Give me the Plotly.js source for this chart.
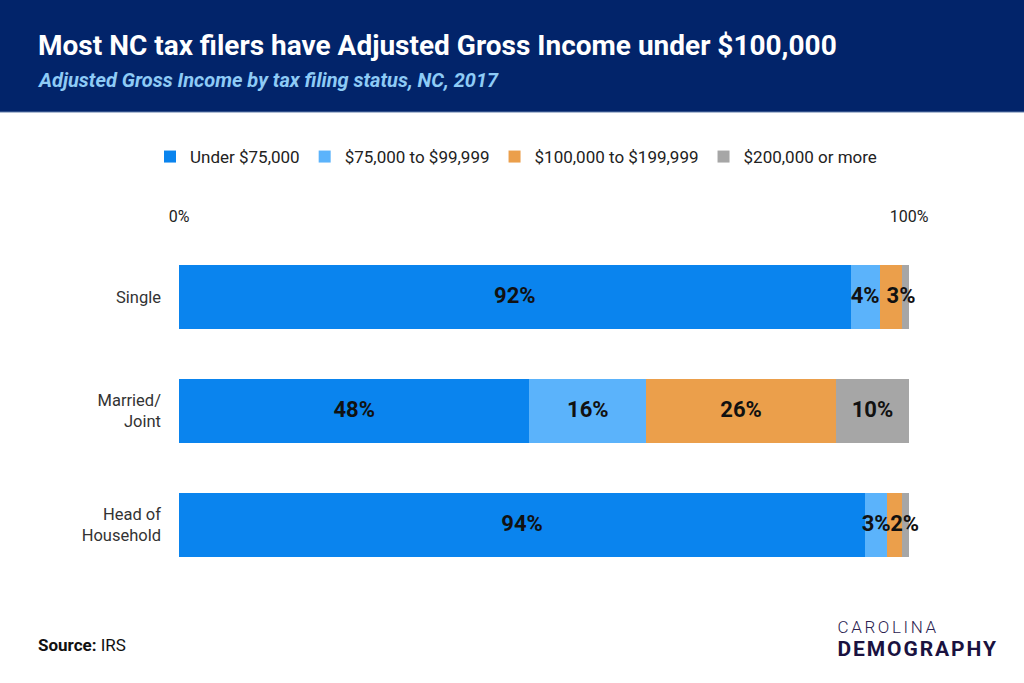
<!DOCTYPE html>
<html>
<head>
<meta charset="utf-8">
<script src="https://cdn.plot.ly/plotly-3.0.1.min.js"></script>
<style>
  html, body { margin: 0; padding: 0; background: #ffffff; }
  #chart { width: 1024px; height: 683px; }
</style>
</head>
<body>
<div id="chart"></div>
<script>
// Filing status categories (top to bottom)
const statuses = ['Single', 'Married/<br>Joint', 'Head of<br>Household'];

// Share of filers (%) in each AGI bracket, per filing status
const under75k      = [92, 48, 94];
const from75to100k  = [4, 16, 3];
const from100to200k = [3, 26, 2];
const over200k      = [1, 10, 1];

const bracketNames = ['Under $75,000', '$75,000 to $99,999', '$100,000 to $199,999', '$200,000 or more'];
const bracketColors = ['#0a84ee', '#5bb3fb', '#eb9f4b', '#a6a6a6'];

const xTickVals = [0, 100];
const xTickText = ['0%', '100%'];

// Canvas geometry
const W = 1024, H = 683;
const M = { l: 179, r: 115, t: 240, b: 101 };
const plotW = W - M.l - M.r, plotH = H - M.t - M.b;
const px = x => (x - M.l) / plotW;
const py = y => (H - M.b - y) / plotH;

const font = 'Roboto, sans-serif';

const series = [under75k, from75to100k, from100to200k, over200k];

// Stacked bars, one trace per bracket
const traces = series.map((vals, i) => ({
  type: 'bar',
  orientation: 'h',
  name: bracketNames[i],
  y: statuses,
  x: vals,
  marker: { color: bracketColors[i], line: { width: 0 } },
  hoverinfo: 'skip'
}));

// Value labels sit on top of every segment, centred on it. Segments under 2%
// stay unlabelled; a narrow label that follows another narrow one is eased
// right so the two do not collide.
const labelX = [], labelY = [], labelText = [];
statuses.forEach((s, j) => {
  let start = 0;
  let prevNarrow = false;
  series.forEach(vals => {
    const v = vals[j];
    if (v >= 2) {
      const narrow = v < 5;
      labelX.push(start + v / 2 + (narrow && prevNarrow ? 1.4 : 0));
      labelY.push(s);
      labelText.push(v + '%');
      prevNarrow = narrow;
    }
    start += v;
  });
});

traces.push({
  type: 'scatter',
  mode: 'text',
  x: labelX,
  y: labelY,
  text: labelText,
  textposition: 'middle center',
  textfont: { family: font, size: 22, color: '#111111', weight: 700 },
  cliponaxis: false,
  showlegend: false,
  hoverinfo: 'skip'
});

const layout = {
  width: W,
  height: H,
  margin: M,
  paper_bgcolor: '#ffffff',
  plot_bgcolor: '#ffffff',
  barmode: 'stack',
  bargap: 0.43,
  showlegend: true,
  legend: {
    orientation: 'h',
    x: px(516), xanchor: 'center',
    y: py(157), yanchor: 'middle',
    font: { family: font, size: 17, color: '#222222' },
    traceorder: 'normal',
    itemclick: false
  },
  xaxis: {
    side: 'top',
    range: [0, 100],
    tickvals: xTickVals,
    ticktext: xTickText,
    showgrid: true,
    gridcolor: '#e3e3e3',
    gridwidth: 2,
    zeroline: false,
    showline: false,
    ticks: '',
    ticklabelstandoff: 14,
    tickfont: { family: font, size: 16, color: '#222222' },
    fixedrange: true
  },
  yaxis: {
    range: [2.5, -0.5],
    showgrid: false,
    zeroline: false,
    showline: false,
    ticks: '',
    ticklabelstandoff: 17,
    tickfont: { family: font, size: 16.5, color: '#333333' },
    fixedrange: true
  },
  shapes: [
    // Header band
    {
      type: 'rect', xref: 'paper', yref: 'paper', layer: 'below',
      x0: px(0), x1: px(W), y0: py(112), y1: py(0),
      fillcolor: '#02246a', line: { width: 0 }
    },
    {
      type: 'line', xref: 'paper', yref: 'paper',
      x0: px(0), x1: px(W), y0: py(112), y1: py(112),
      line: { color: '#5f7aa8', width: 1 }
    }
  ],
  annotations: [
    {
      xref: 'paper', yref: 'paper', x: px(36), y: py(45),
      xanchor: 'left', yanchor: 'middle', showarrow: false,
      text: 'Most NC tax filers have Adjusted Gross Income under $100,000',
      font: { family: font, size: 28, color: '#ffffff', weight: 700 }
    },
    {
      xref: 'paper', yref: 'paper', x: px(35), y: py(80),
      xanchor: 'left', yanchor: 'middle', showarrow: false,
      text: 'Adjusted Gross Income by tax filing status, NC, 2017',
      font: { family: font, size: 20, color: '#8ecbf6', weight: 700, style: 'italic' }
    },
    {
      xref: 'paper', yref: 'paper', x: px(36), y: py(645),
      xanchor: 'left', yanchor: 'middle', showarrow: false,
      text: '<b>Source:</b> IRS',
      font: { family: font, size: 17, color: '#111111' }
    },
    {
      xref: 'paper', yref: 'paper', x: px(846), y: py(627),
      xanchor: 'left', yanchor: 'middle', showarrow: false,
      text: 'CAROLINA',
      font: { family: font, size: 17, color: '#2b2250', weight: 300 }
    },
    {
      xref: 'paper', yref: 'paper', x: px(845), y: py(649),
      xanchor: 'left', yanchor: 'middle', showarrow: false,
      text: 'DEMOGRAPHY',
      font: { family: font, size: 21, color: '#1a1240', weight: 700 }
    }
  ]
};

const gd = document.getElementById('chart');
Plotly.newPlot(gd, traces, layout, { displayModeBar: false, staticPlot: true }).then(() => {
  // Wordmark tracking
  gd.querySelectorAll('.annotation-text').forEach(t => {
    if (t.textContent === 'CAROLINA') t.style.letterSpacing = '2.6px';
    if (t.textContent === 'DEMOGRAPHY') t.style.letterSpacing = '1.9px';
  });
});
</script>
</body>
</html>
